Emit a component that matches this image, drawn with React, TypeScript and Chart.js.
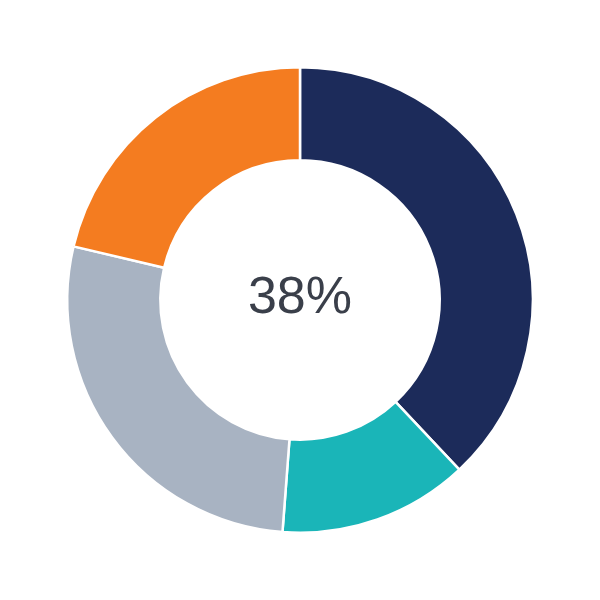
import React, { useEffect, useRef } from "react";
import { Chart, registerables } from "chart.js";

Chart.register(...registerables);

const categories = ["Navy", "Teal", "Gray", "Orange"];
const values = [38, 13.2, 27.5, 21.3];
const colors = ["#1c2b5a", "#1ab5b8", "#a8b3c2", "#f47c20"];
const centerLabel = "38%";

export default function App() {
  const ref = useRef<HTMLCanvasElement | null>(null);
  useEffect(() => {
    if (!ref.current) return;
    const chart = new Chart(ref.current, {
      type: "doughnut",
      data: {
        labels: categories,
        datasets: [
          {
            data: values,
            backgroundColor: colors,
            borderColor: "#ffffff",
            borderWidth: 2.5,
          },
        ],
      },
      options: {
        animation: false,
        responsive: false,
        maintainAspectRatio: false,
        cutout: "60%",
        layout: { padding: 58 },
        plugins: {
          legend: { display: false },
          tooltip: { enabled: false },
        },
      },
    });
    return () => chart.destroy();
  }, []);
  return (
    <div style={{ position: "relative", width: 584, height: 584 }}>
      <canvas ref={ref} width={584} height={584} style={{ width: 584, height: 584 }} />
      <div
        style={{
          position: "absolute",
          left: 0,
          top: 0,
          width: 584,
          height: 584,
          display: "flex",
          alignItems: "center",
          justifyContent: "center",
          fontFamily: "'Liberation Sans', Arial, sans-serif",
          fontSize: 52,
          color: "#3a3f4a",
          lineHeight: 1,
          paddingBottom: 10,
          boxSizing: "border-box",
        }}
      >
        {centerLabel}
      </div>
    </div>
  );
}
